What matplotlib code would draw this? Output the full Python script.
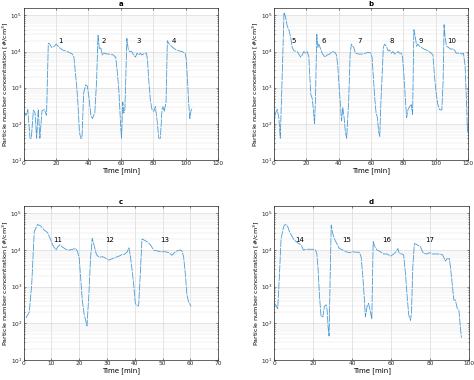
import matplotlib
matplotlib.use("Agg")
import matplotlib.pyplot as plt
from matplotlib.ticker import LogLocator, NullFormatter

plt.rcParams.update({
    "font.family": "DejaVu Sans",
    "font.size": 4.5,
    "axes.linewidth": 0.5,
})

# panel a
t_a = [0, 1.4, 2.5, 3.9, 4.7, 6, 7, 8, 9, 10, 11.3, 12.7, 14.1, 15.2, 16.2, 17.2, 18.9, 20,
       22, 24, 27, 30, 31, 32.8, 33.6, 34.4, 35.2, 36, 37, 38.3, 39.3, 40.4, 41.4, 42.4,
       43.9, 45, 45.9, 46.7, 47.5, 48.6, 49.6, 51.6, 53.7, 55.3, 56.8, 57.7, 58.8, 59.8,
       60.4, 61.2, 61.8, 62.5, 63.7, 64.5, 65.3, 66.6, 68, 69, 70, 71, 72, 73, 74.8, 75.8,
       76.4, 77.2, 78.2, 79.2, 80.3, 81.3, 82.3, 83.4, 84.4, 85.4, 86, 86.8, 87.9, 88.7,
       89.5, 90.5, 92, 93, 94.2, 95.7, 97.7, 99.7, 100.4, 101.2, 101.8, 102.6, 103.4, 104.3]
c_a = [220, 170, 250, 40, 40, 240, 200, 40, 250, 40, 230, 250, 170, 17000, 16000, 13000, 14000, 16000,
       13000, 11000, 10000, 8500, 7000, 1000, 300, 60, 40, 40, 700, 1200, 1100, 500, 180, 140,
       200, 1500, 28000, 12000, 13000, 8000, 9000, 8500, 8500, 8000, 7000, 3000, 800, 100,
       40, 400, 200, 250, 23000, 12000, 10000, 10000, 8000, 7000, 9000, 8000, 9000, 8000, 9000, 9000,
       6000, 1700, 450, 250, 220, 300, 130, 40, 40, 250, 300, 220, 400, 20000,
       17000, 15000, 13000, 12000, 11000, 10500, 10000, 9000, 6000, 1500, 400, 140, 240, 270]

# panel b
t_b = [0, 1, 2, 3, 3.9, 5.2, 6.2, 7.2, 8.2, 9.2, 10.3, 11.3, 12.3, 14.4, 16.5, 17.5, 18.5, 19.5,
       20.6, 21.6, 22.2, 22.8, 23.7, 24.5, 25.1, 25.7, 26.5, 27.2, 27.8, 28.8, 29.8, 31.5, 32.9,
       34.4, 36, 37.7, 38.7, 39.5, 40.1, 41.8, 42.6, 43.4, 44.2, 45, 46.3, 47.1, 47.9, 49.4,
       50.4, 52.5, 54.5, 56.6, 58.6, 59.9, 60.7, 61.5, 62.4, 63.2, 64, 64.8, 65.5, 66, 66.9,
       67.7, 68.5, 69.6, 70.6, 71.6, 72.7, 73.7, 74.7, 75.7, 76.8, 77.8, 78.8, 79.6, 80.5,
       81.3, 82.1, 83, 84, 85, 85.8, 86.6, 87.5, 88.3, 89.1, 90.1, 91.2, 93.2, 95.3, 97.3,
       98.4, 99.4, 100.4, 101.4, 102.4, 103.9, 104.7, 105.3, 105.9, 106.8, 108, 109.7, 110.7,
       111.7, 112.8, 114.8, 116.5, 117.3, 118.3, 119.1, 119.8]
c_b = [100, 200, 250, 150, 40, 3000, 120000, 90000, 50000, 40000, 25000, 13000, 10500, 10000, 7000, 8000, 10000, 9000,
       10000, 7000, 2000, 650, 500, 220, 100, 500, 30000, 13000, 16000, 12000, 9000, 7000, 8000,
       8500, 10000, 9500, 8000, 4000, 1500, 120, 280, 150, 60, 40, 500, 8000, 16000, 13000,
       9000, 8500, 8500, 9000, 9500, 9000, 7000, 2000, 500, 200, 150, 60, 45, 250, 2000,
       13000, 16000, 14000, 10500, 11000, 9000, 10000, 8500, 9000, 10000, 9000, 9000, 7000, 2000,
       500, 150, 250, 300, 350, 180, 40000, 25000, 14000, 16000, 14000, 13000, 11500, 10500, 9000,
       8000, 2000, 700, 350, 250, 240, 1500, 55000, 25000, 14000, 13000, 11500, 12000,
       11000, 9000, 9000, 8500, 9000, 4000, 500, 60]

# panel c
t_c = [0.8, 2, 2.9, 3.8, 5, 6.2, 7.4, 8.6, 9.6, 10.4, 11.6, 12.2, 13.1, 14, 15.2, 16.4, 17.6,
       18.8, 19.4, 20, 20.5, 21.1, 21.7, 22.3, 22.8, 23.5, 24.1, 24.7, 25.3, 26.2, 27.2, 28.4,
       29.5, 30.7, 31.9, 33.1, 34.3, 35.5, 36.4, 37.3, 37.9, 38.4, 39, 39.6, 40.2, 40.8, 41.4,
       42, 42.6, 43.2, 44.4, 45.6, 46.8, 48, 49.2, 51, 52.2, 53.4, 54.3, 55.2, 56.4, 57, 57.6,
       58.2, 58.8, 59.4, 60.3]
c_c = [140, 200, 1200, 32000, 50000, 45000, 35000, 30000, 20000, 14000, 10000, 12000, 14000, 12000, 10500, 10000, 10500,
       11000, 9000, 6000, 1800, 430, 190, 120, 85, 650, 6500, 21000, 14000, 7500, 6300, 6600,
       6000, 5300, 5800, 6300, 6800, 7600, 7700, 9000, 11500, 7000, 3000, 1200, 350, 300, 300,
       2300, 20000, 19000, 17000, 14000, 10000, 9500, 9000, 9000, 8500, 7200, 8500, 9500, 10000, 9500, 6500,
       2300, 600, 380, 290]

# panel d
t_d = [0, 0.9, 1.7, 2.6, 3.4, 4.3, 5.1, 6, 6.9, 7.7, 8.6, 9.8, 11.1, 12.5, 13.7, 14.9, 16.3, 18,
       19.7, 21.1, 21.8, 22.5, 23.2, 24, 24.9, 25.7, 26.6, 27.1, 27.6, 28.1, 28.6, 29.2, 30,
       30.9, 32.1, 33.4, 35.2, 36.9, 38.6, 40.3, 42, 43.7, 44.6, 45.5, 46.3, 46.8, 47.7, 48.4,
       49.2, 50.1, 50.8, 51.6, 52.8, 54.5, 56.2, 58, 59.7, 61.4, 62.6, 63.5, 64.3, 65.7, 66.5,
       67.4, 68.3, 69.1, 70, 70.5, 71.2, 72, 72.9, 74.3, 75.1, 76, 76.8, 78.5, 79.8, 81.1,
       82.8, 85.4, 86.6, 88, 88.8, 90, 90.6, 91.4, 92.3, 93.1, 94, 94.9, 95.5, 96.2]
c_d = [350, 300, 250, 2300, 20000, 35000, 48000, 50000, 43000, 32000, 26000, 20000, 17000, 15000, 14000, 10000, 10500, 10500,
       10500, 10000, 8000, 2800, 530, 150, 150, 290, 320, 230, 80, 45, 1200, 48000, 28000,
       20000, 15000, 11000, 10000, 9000, 8500, 9000, 8700, 8700, 6500, 1800, 430, 150, 290, 350,
       230, 130, 17000, 12500, 10000, 9000, 7800, 7800, 6800, 7800, 9000, 11000, 8000, 7800, 7300,
       2300, 530, 170, 120, 190, 3500, 15000, 14500, 13000, 12500, 9500, 8000, 7800, 8500, 7800,
       7800, 7800, 7300, 5000, 5800, 5800, 3300, 1300, 430, 430, 260, 230, 100, 40]

panels = [
    ("a", t_a, c_a, 120, 20, ["1", "2", "3", "4"], [23, 49.5, 71, 93], 2.0e4),
    ("b", t_b, c_b, 120, 20, ["5", "6", "7", "8", "9", "10"], [12, 31, 53, 73, 91, 110], 2.0e4),
    ("c", t_c, c_c, 70, 10, ["11", "12", "13"], [12.2, 31.1, 50.8], 1.9e4),
    ("d", t_d, c_d, 100, 20, ["14", "15", "16", "17"], [13, 37, 58, 80], 1.9e4),
]
positions = [
    [0.050, 0.579, 0.410, 0.40],
    [0.578, 0.579, 0.409, 0.40],
    [0.050, 0.053, 0.410, 0.405],
    [0.579, 0.053, 0.410, 0.405],
]

fig = plt.figure(figsize=(4.74, 3.8), dpi=100)
for (title, t, c, xmax, xstep, labels, lx, ly), pos in zip(panels, positions):
    ax = fig.add_axes(pos)
    ax.plot(t, c, color="#4a9bd4", lw=0.6, ls=(0, (9, 1.2)))
    ax.set_yscale("log")
    ax.set_ylim(10, 1.6e5)
    ax.set_xlim(0, xmax)
    ax.set_xticks(range(0, xmax + 1, xstep))
    ax.yaxis.set_major_locator(LogLocator(base=10, numticks=10))
    ax.yaxis.set_minor_locator(LogLocator(base=10, subs=range(2, 10), numticks=10))
    ax.yaxis.set_minor_formatter(NullFormatter())
    ax.grid(True, which="major", color="#d0d0d0", lw=0.4)
    ax.grid(True, which="minor", axis="y", color="#e4e4e4", lw=0.35)
    ax.tick_params(which="both", direction="in", length=1.5, width=0.4, pad=1,
                   top=True, right=True, labelsize=4.2, colors="#262626")
    ax.tick_params(which="minor", length=0.8)
    for s in ax.spines.values():
        s.set_color("#262626")
    ax.set_title(title, fontsize=5, fontweight="bold", pad=1.5)
    ax.set_xlabel("Time [min]", fontsize=5, labelpad=0.5)
    ax.set_ylabel("Particle number concentration [#/cm$^3$]", fontsize=4.6, labelpad=0.5)
    for lab, x in zip(labels, lx):
        ax.text(x, ly, lab, fontsize=5, ha="center", va="center")

fig.savefig("out.png", dpi=100)
